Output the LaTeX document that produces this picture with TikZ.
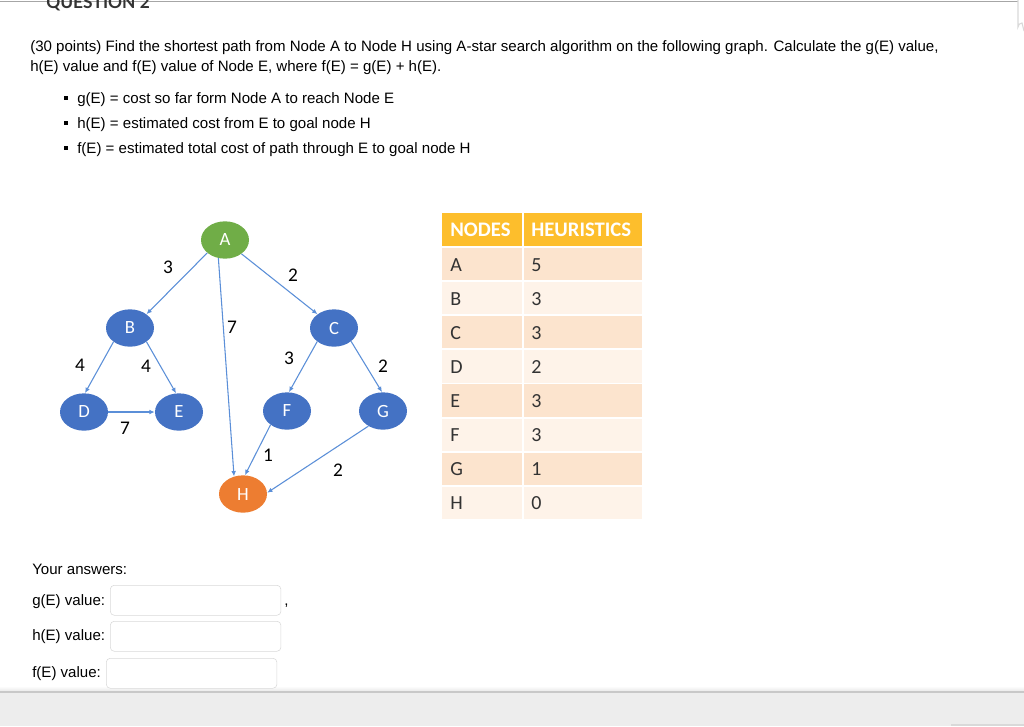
\documentclass[tikz,border=0pt]{standalone}
\usepackage{fontspec}
\setmainfont{Liberation Sans}
\newfontfamily\calfont{Carlito}
\newfontfamily\latofont{Lato}
\usetikzlibrary{shapes.geometric,arrows.meta}
\definecolor{nodeblue}{HTML}{4472C4}
\definecolor{nodegreen}{HTML}{70AD47}
\definecolor{nodeorange}{HTML}{ED7D31}
\definecolor{edgeblue}{HTML}{5B8FD8}
\definecolor{hdr}{HTML}{FDBE2C}
\definecolor{rowdark}{HTML}{FCE4CE}
\definecolor{rowlight}{HTML}{FEF3E9}
\definecolor{boxline}{HTML}{D9D9D9}
\definecolor{bandfill}{HTML}{EDEDED}
\definecolor{bandline}{HTML}{C8C8C8}
\definecolor{qgray}{HTML}{333333}
\tikzset{
  gnode/.style={ellipse, minimum width=36pt, minimum height=28pt, inner sep=0pt, text=white, font=\calfont\fontsize{14}{14}\selectfont},
  edge/.style={draw=edgeblue, line width=0.8pt, -{Latex[length=4pt,width=3.5pt]}},
  elabel/.style={font=\calfont\fontsize{14.5}{14.5}\selectfont, inner sep=0pt},
  txt/.style={anchor=base west, inner sep=0pt, font=\fontsize{11.3}{13}\selectfont},
  bulletsq/.style={fill=black, minimum size=3.2pt, inner sep=0pt},
  inbox/.style={draw=boxline, fill=white, rounded corners=3pt, minimum width=128pt, minimum height=22.5pt, inner sep=0pt, anchor=north west},
  ttext/.style={anchor=west, inner sep=0pt, font=\calfont\fontsize{15}{15}\selectfont, text=black!80},
  thead/.style={anchor=west, inner sep=0pt, font=\calfont\bfseries\fontsize{15.5}{15.5}\selectfont, text=white}
}
\begin{document}
\begin{tikzpicture}[x=0.75pt,y=-0.75pt]
\useasboundingbox (0,0) rectangle (1024,726);
\clip (0,0) rectangle (1024,726);
\fill[white] (0,0) rectangle (1024,726);

% header strip
\draw[gray!70, line width=0.8pt] (0,1.5) -- (1018,1.5);
\draw[boxline, line width=0.8pt] (1018,0) -- (1018,27) arc[start angle=180,end angle=270,radius=4] -- (1024,31);
\node[anchor=base west, inner sep=0pt, text=qgray, font=\latofont\bfseries\fontsize{13}{13}\selectfont] (qtitle) at (46,8) {QUESTION 2};

% question text
\node[txt] (p1) at (30,51) {(30 points) Find the shortest path from Node A to Node H using A-star search algorithm on the following graph. Calculate the g(E) value,};
\node[txt] (p2) at (30,71) {h(E) value and f(E) value of Node E, where f(E) = g(E) + h(E).};
\node[bulletsq] (bl1) at (66,98) {};
\node[bulletsq] (bl2) at (66,123) {};
\node[bulletsq] (bl3) at (66,148) {};
\node[txt] (t1) at (77,103) {g(E) = cost so far form Node A to reach Node E};
\node[txt] (t2) at (77,128) {h(E) = estimated cost from E to goal node H};
\node[txt] (t3) at (77,153) {f(E) = estimated total cost of path through E to goal node H};

% graph
\node[gnode, fill=nodegreen] (A) at (225,240) {A};
\node[gnode, fill=nodeblue] (B) at (130,328) {B};
\node[gnode, fill=nodeblue] (C) at (334,328) {C};
\node[gnode, fill=nodeblue] (D) at (84,412) {D};
\node[gnode, fill=nodeblue] (E) at (179,412) {E};
\node[gnode, fill=nodeblue] (F) at (287,411) {F};
\node[gnode, fill=nodeblue] (G) at (383,411) {G};
\node[gnode, fill=nodeorange] (H) at (243,494) {H};

\draw[edge] (A.216) -- (B.40);
\draw[edge] (A.320) -- (C.140);
\draw[edge] (A.250) -- (H.117);
\draw[edge] (B.220) -- (D.87);
\draw[edge] (B.320) -- (E.99);
\draw[edge] (D.0) -- (E.180);
\draw[edge] (C.219) -- (F.84);
\draw[edge] (C.322) -- (G.93);
\draw[edge] (F.220) -- (H.84);
\draw[edge] (G.226) -- (H.3);

\node[elabel] (lAB) at (168,267) {3};
\node[elabel] (lAC) at (293,275) {2};
\node[elabel] (lAH) at (232,327) {7};
\node[elabel] (lBD) at (80,365) {4};
\node[elabel] (lBE) at (146,366) {4};
\node[elabel] (lCF) at (289,358) {3};
\node[elabel] (lCG) at (383,366) {2};
\node[elabel] (lDE) at (125,428) {7};
\node[elabel] (lFH) at (268,455) {1};
\node[elabel] (lGH) at (338,470) {2};

% table
\fill[hdr] (442,213) rectangle (642,246);
\fill[white] (522,213) rectangle (524,520);
\foreach \i/\c in {0/rowdark,1/rowlight,2/rowdark,3/rowlight,4/rowdark,5/rowlight,6/rowdark,7/rowlight}{
  \fill[\c] (442,{248+\i*34.1}) rectangle (522,{248+\i*34.1+32.2});
  \fill[\c] (524,{248+\i*34.1}) rectangle (642,{248+\i*34.1+32.2});
}
\node[thead] (hn) at (450,230) {NODES};
\node[thead] (hh) at (531,230) {HEURISTICS};
\node[ttext] (rA) at (450,265) {A}; \node[ttext] (vA) at (531,265) {5};
\node[ttext] (rB) at (450,299) {B}; \node[ttext] (vB) at (531,299) {3};
\node[ttext] (rC) at (450,333) {C}; \node[ttext] (vC) at (531,333) {3};
\node[ttext] (rD) at (450,367) {D}; \node[ttext] (vD) at (531,367) {2};
\node[ttext] (rE) at (450,401) {E}; \node[ttext] (vE) at (531,401) {3};
\node[ttext] (rF) at (450,435) {F}; \node[ttext] (vF) at (531,435) {3};
\node[ttext] (rG) at (450,469) {G}; \node[ttext] (vG) at (531,469) {1};
\node[ttext] (rH) at (450,503) {H}; \node[ttext] (vH) at (531,503) {0};

% bottom band
\shade[top color=white, bottom color=black!10] (0,686) rectangle (1024,692);
\fill[bandfill] (0,692) rectangle (1024,726);
\draw[bandline, line width=0.8pt] (0,692) -- (1024,692);
\fill[black!15] (951,724) rectangle (1024,726);

% answers
\node[txt] (ya) at (32,574) {Your answers:};
\node[txt] (ga) at (32,605) {g(E) value:};
\node[inbox] (gbox) at (110,585) {};
\node[txt] (comma) at (284,605) {,};
\node[txt] (ha) at (32,640) {h(E) value:};
\node[inbox] (hbox) at (110,621) {};
\node[txt] (fa) at (32,677) {f(E) value:};
\node[inbox] (fbox) at (106,658) {};
\end{tikzpicture}
\end{document}
